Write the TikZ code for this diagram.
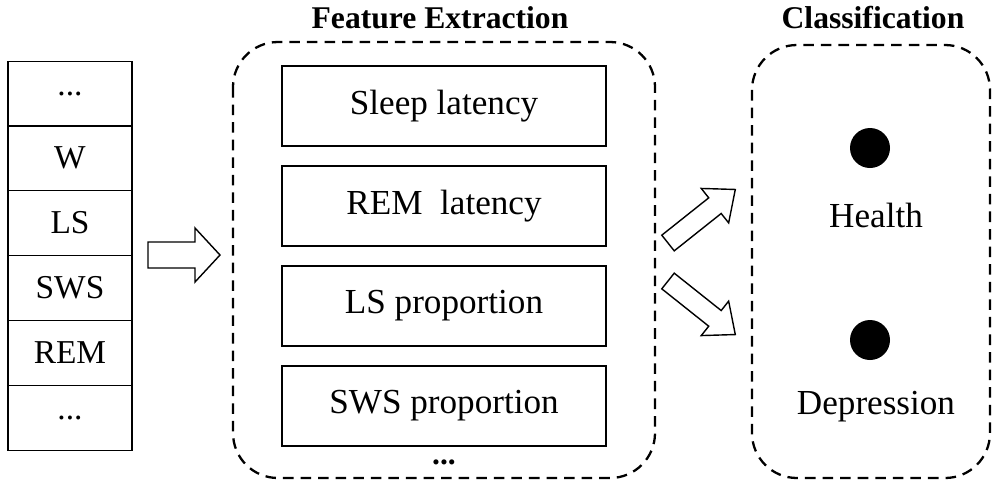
\documentclass[tikz,border=0pt]{standalone}
\usepackage{fontspec}
\setmainfont{Liberation Serif}
\begin{document}
\begin{tikzpicture}[x=0.02cm,y=-0.02cm,
  cell/.style={draw,line width=0.8pt,minimum width=2.48cm,minimum height=1.3cm,font=\fontsize{19}{21}\selectfont,inner sep=0},
  feat/.style={draw,line width=0.8pt,minimum width=6.48cm,minimum height=1.6cm,font=\fontsize{20}{23}\selectfont,inner sep=0},
  group/.style={draw,dashed,line width=1.3pt,rounded corners=0.9cm,dash pattern=on 6pt off 4pt},
  title/.style={font=\bfseries\fontsize{18}{21}\selectfont},
  lab/.style={font=\fontsize{20}{23}\selectfont},
  harrow/.style={draw,line width=0.8pt,fill=white}]
\useasboundingbox (0,0) rectangle (1000,495);
% left column
\foreach \n/\t/\y in {c1/{...}/94,c2/W/158,c3/LS/223,c4/SWS/288,c5/REM/353,c6/{...}/418}
  \node[cell] (\n) at (70,\y) {\t};
% arrow 1
\draw[harrow,shift={(148,255)}] (0,-13)--(47,-13)--(47,-27)--(72,0)--(47,27)--(47,13)--(0,13)--cycle;
% feature group
\draw[group] (233,42) rectangle (655,478);
\node[title] (t1) at (440,18) {Feature Extraction};
\node[feat] (f1) at (444,106) {Sleep latency};
\node[feat] (f2) at (444,206) {REM\ \ latency};
\node[feat] (f3) at (444,306) {LS proportion};
\node[feat] (f4) at (444,406) {SWS proportion};
\node[title] (fd) at (444,462) {...};
% diagonal arrows
\draw[harrow,shift={(668,243)},rotate=38.5] (0,-10)--(60,-10)--(60,-22)--(86,0)--(60,22)--(60,10)--(0,10)--cycle;
\draw[harrow,shift={(668,281)},rotate=-38.5] (0,-10)--(60,-10)--(60,-22)--(86,0)--(60,22)--(60,10)--(0,10)--cycle;
% classification
\draw[group] (752,45) rectangle (990,478);
\node[title] (t2) at (873,18) {Classification};
\node[circle,fill=black,minimum size=0.8cm,inner sep=0] (d1) at (870,148) {};
\node[circle,fill=black,minimum size=0.8cm,inner sep=0] (d2) at (870,340) {};
\node[lab] (h) at (876,215) {Health};
\node[lab] (d) at (876,407) {Depression};
\end{tikzpicture}
\end{document}
